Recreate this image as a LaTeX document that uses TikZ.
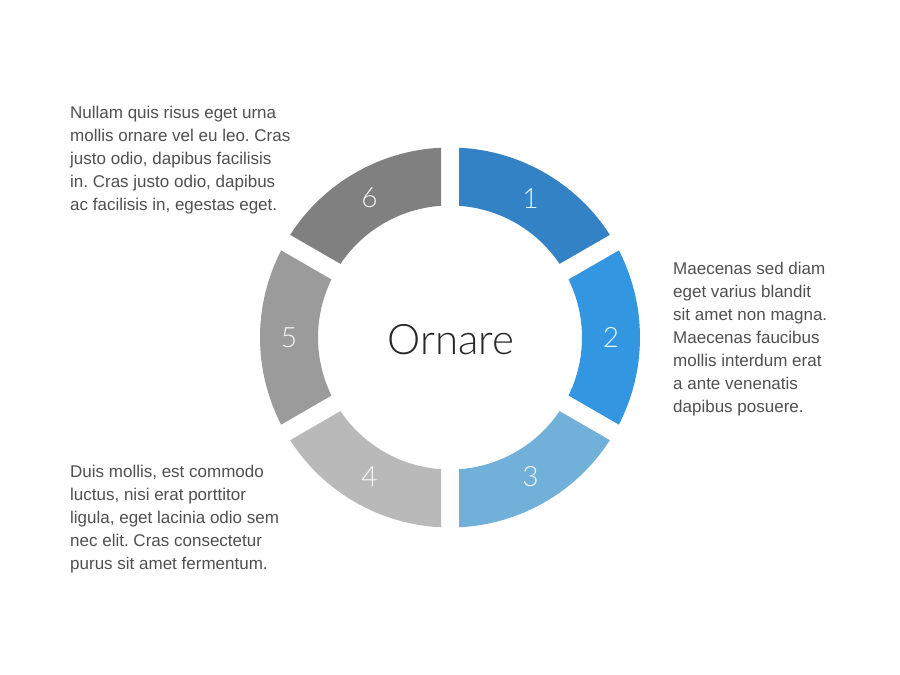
\documentclass[tikz,border=0pt]{standalone}
\usepackage{fontspec}
\setmainfont{Liberation Sans}
\newfontfamily\lightfont{Lato Light}
\frenchspacing
\definecolor{segA}{RGB}{51,130,198}
\definecolor{segB}{RGB}{50,151,224}
\definecolor{segC}{RGB}{113,176,216}
\definecolor{segD}{RGB}{185,185,185}
\definecolor{segE}{RGB}{155,155,155}
\definecolor{segF}{RGB}{128,128,128}
\definecolor{bodytext}{RGB}{80,80,80}
\definecolor{titletext}{RGB}{40,40,40}
\newcommand{\Rout}{190pt}
\newcommand{\Rin}{132pt}
\newcommand{\ringseg}[3]{% #1 start angle, #2 colour, #3 name
  \fill[#2] (#1-2.715:\Rout) arc[start angle=#1-2.715, end angle=#1-60+2.715, radius=\Rout]
    -- (#1-60+3.909:\Rin) arc[start angle=#1-60+3.909, end angle=#1-3.909, radius=\Rin] -- cycle;
  \node[numlabel] (#3) at (#1-30:161pt) {#3};
}
\tikzset{
  numlabel/.style={text=white, text opacity=0.9, font=\lightfont\fontsize{28}{30}\selectfont, inner sep=0},
  bodyblock/.style={anchor=base west, inner sep=0, text=bodytext},
}
\begin{document}
\begin{tikzpicture}[x=1pt,y=1pt]
\useasboundingbox (0,0) rectangle (900,675);
\fill[white] (0,0) rectangle (900,675);
\begin{scope}[shift={(450,337.5)}]
  \ringseg{90}{segA}{1}
  \ringseg{30}{segB}{2}
  \ringseg{-30}{segC}{3}
  \ringseg{-90}{segD}{4}
  \ringseg{-150}{segE}{5}
  \ringseg{150}{segF}{6}
  \node[anchor=base, inner sep=0, text=titletext, font=\lightfont\fontsize{42}{44}\selectfont] (title) at (1,-17) {Ornare};
\end{scope}
\node[bodyblock] (tl) at (70,675-119) {\fontsize{17}{23}\selectfont\begin{tabular}[t]{@{}l@{}}Nullam quis risus eget urna\\mollis ornare vel eu leo. Cras\\justo odio, dapibus facilisis\\in. Cras justo odio, dapibus\\ac facilisis in, egestas eget.\end{tabular}};
\node[bodyblock] (rt) at (673,675-275) {\fontsize{17}{23}\selectfont\begin{tabular}[t]{@{}l@{}}Maecenas sed diam\\eget varius blandit\\sit amet non magna.\\Maecenas faucibus\\mollis interdum erat\\a ante venenatis\\dapibus posuere.\end{tabular}};
\node[bodyblock] (bl) at (70,675-478) {\fontsize{17}{23}\selectfont\begin{tabular}[t]{@{}l@{}}Duis mollis, est commodo\\luctus, nisi erat porttitor\\ligula, eget lacinia odio sem\\nec elit. Cras consectetur\\purus sit amet fermentum.\end{tabular}};
\end{tikzpicture}
\end{document}
